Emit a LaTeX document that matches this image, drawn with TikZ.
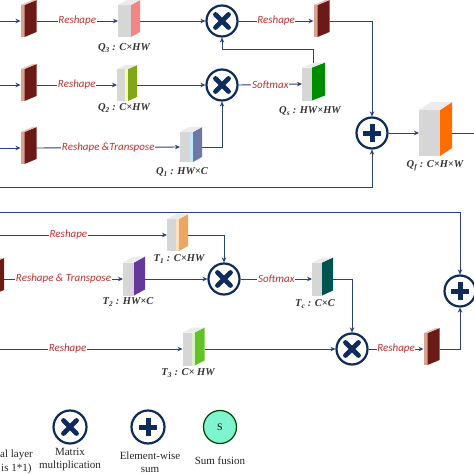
\documentclass[tikz,border=0pt]{standalone}
\usepackage{fontspec}
\setmainfont{Liberation Serif}
\newfontfamily\labfont{Carlito}
\usetikzlibrary{calc,arrows.meta}
\definecolor{navy}{HTML}{0F2B5B}
\definecolor{wire}{HTML}{2B3F78}
\definecolor{redlab}{HTML}{BF3030}
\definecolor{mfront}{HTML}{D9A292}
\definecolor{mside}{HTML}{6B1A17}
\definecolor{mtop}{HTML}{E8C3B8}
\definecolor{gfront}{HTML}{D6D6D6}
\definecolor{gtop}{HTML}{EBEBEB}
\definecolor{sfill}{HTML}{7FF5CF}
\pgfdeclarelayer{bg}
\pgfsetlayers{bg,main}
% name, pos, fw, d, hf, dy, front, side, top
\newcommand{\slab}[9]{%
  \node[inner sep=0pt,outer sep=0pt,minimum width={#3pt+#4pt},minimum height={#5pt}] (#1) at #2 {};
  \fill[#7] (#1.south west) rectangle ++(#3pt,#5pt);
  \fill[#8] ($(#1.south west)+(#3pt,0pt)$) -- ++(#4pt,#6pt) -- ++(0pt,#5pt) -- ++(-#4pt,-#6pt) -- cycle;
  \fill[#9] ($(#1.south west)+(0pt,#5pt)$) -- ++(#3pt,0pt) -- ++(#4pt,#6pt) -- ++(-#3pt,0pt) -- cycle;
}
\newcommand{\mblock}[2]{\slab{#1}{#2}{4}{12}{32}{5}{mfront}{mside}{mtop}}
\tikzset{
  wireline/.style={draw=wire, line width=0.9pt},
  arr/.style={wireline, -{Stealth[length=5pt,width=4.5pt]}},
  lab/.style={fill=white, inner sep=0.6pt, text=redlab, font=\labfont\itshape\fontsize{11}{12}\selectfont},
  qlab/.style={text=black!80, font=\bfseries\itshape\fontsize{10.5}{11}\selectfont},
  leg/.style={align=center, font=\fontsize{11}{13}\selectfont, text=black!85},
  opbase/.style={circle, draw=navy, line width=2.2pt, fill=white, minimum size=31pt, inner sep=0pt},
  otimesc/.style={opbase, path picture={
    \draw[navy, line width=4.8pt, line cap=round]
      ([shift={(-6.5pt,-6.5pt)}]path picture bounding box.center) -- ([shift={(6.5pt,6.5pt)}]path picture bounding box.center)
      ([shift={(-6.5pt,6.5pt)}]path picture bounding box.center) -- ([shift={(6.5pt,-6.5pt)}]path picture bounding box.center);}},
  oplusc/.style={opbase, path picture={
    \draw[navy, line width=5pt]
      ([shift={(-9pt,0pt)}]path picture bounding box.center) -- ([shift={(9pt,0pt)}]path picture bounding box.center)
      ([shift={(0pt,-9pt)}]path picture bounding box.center) -- ([shift={(0pt,9pt)}]path picture bounding box.center);}},
}
\begin{document}
\begin{tikzpicture}[x=1pt,y=-1pt]
\useasboundingbox (0,0) rectangle (474,474);

% ---------- top branch ----------
\coordinate (in1) at (0,21);
\coordinate (in2) at (0,85);
\coordinate (in3) at (0,148);
\coordinate (in4) at (0,187);
\coordinate (j1) at (313,49);
\coordinate (outR) at (474,133);

\mblock{m1}{(28.5,21)}
\mblock{m2}{(28.5,85)}
\mblock{m3}{(28.5,148)}
\slab{q3}{(129,21)}{13}{9}{32}{5}{gfront}{red!45!white!95!black}{gtop}
\slab{q2}{(127,85)}{11}{9}{32}{4}{gfront}{green!30!black!55!yellow!90!white}{gtop}
\fill[green!15!yellow!35!white] ($(q2.south west)+(8pt,0pt)$) rectangle ++(3pt,32pt);
\slab{q1}{(191,147)}{13}{9}{30}{5}{gfront}{cyan!35!blue!45!gray}{gtop}
\fill[cyan!25!white] ($(q1.south west)+(10pt,0pt)$) rectangle ++(3pt,30pt);
\slab{qs}{(313.5,84)}{10}{13}{33}{5}{gfront}{green!55!black}{gtop}
\mblock{m5}{(321.5,21)}
\slab{qf}{(435.5,133)}{21}{12}{46}{8}{gfront}{orange!85!red}{gtop}

\node[otimesc] (ot1) at (222,21) {};
\node[otimesc] (ot2) at (222,85) {};
\node[oplusc] (op1) at (372,133) {};

\node[qlab] (lq3) at (124,48) {Q\textsubscript{3} : C×HW};
\node[qlab] (lq2) at (124,108) {Q\textsubscript{2} : C×HW};
\node[qlab] (lq1) at (182,172) {Q\textsubscript{1} : HW×C};
\node[qlab] (lqs) at (310,111) {Q\textsubscript{s} : HW×HW};
\node[qlab] (lqf) at (435,166) {Q\textsubscript{f} : C×H×W};

% ---------- bottom branch ----------
\coordinate (inb0) at (0,212);
\coordinate (inb1) at (0,235);
\coordinate (inb3) at (0,349);

\mblock{mt2}{(-4,279)}
\slab{t1}{(177.5,235)}{12}{9}{32}{5}{gfront}{orange!55!brown!70!white}{gtop}
\fill[orange!25!white] ($(t1.south west)+(9pt,0pt)$) rectangle ++(3pt,32pt);
\slab{t2}{(134,279)}{11}{11}{33}{6}{gfront}{violet!60!blue!55!gray}{gtop}
\fill[violet!20!white] ($(t2.south west)+(9pt,0pt)$) rectangle ++(2pt,33pt);
\slab{tc}{(322.5,279)}{10}{11}{33}{5}{gfront}{teal!65!black}{gtop}
\slab{t3}{(193.5,349)}{12}{10}{33}{5}{gfront}{green!45!olive!85!white}{gtop}
\fill[yellow!30!green!20!white] ($(t3.south west)+(9pt,0pt)$) rectangle ++(3pt,33pt);
\mblock{m4}{(431.5,349)}

\node[otimesc] (ot3) at (224,279) {};
\node[otimesc] (ot4) at (352,349) {};
\node[oplusc] (op2) at (460,291) {};

\node[qlab] (lt1) at (179,259) {T\textsubscript{1} : C×HW};
\node[qlab] (lt2) at (128,302) {T\textsubscript{2} : HW×C};
\node[qlab] (ltc) at (315,304) {T\textsubscript{c} : C×C};
\node[qlab] (lt3) at (188,373) {T\textsubscript{3} : C× HW};

% ---------- connectors ----------
\begin{pgfonlayer}{bg}
\draw[arr] (in1) -- (m1.west);
\draw[arr] (m1.east) -- node[lab] {Reshape} (q3.west);
\draw[arr] (q3.east) -- (ot1.west);
\draw[arr] (ot1.east) -- node[lab] {Reshape} (m5.west);
\draw[arr] (m5.east) -| (op1.north);
\draw[arr] (in2) -- (m2.west);
\draw[arr] (m2.east) -- node[lab] {Reshape} (q2.west);
\draw[arr] (q2.east) -- (ot2.west);
\draw[arr] (ot2.east) -- node[lab] {Softmax} (qs.west);
\draw[arr] (qs.north) -- (qs.north |- j1) -| (ot1.south);
\draw[arr] (in3) -- (m3.west);
\draw[arr] (m3.east) -- node[lab] {Reshape \&Transpose} (q1.west);
\draw[arr] (q1.east) -| (ot2.south);
\draw[arr] (in4) -| (op1.south);
\draw[arr] (op1.east) -- (qf.west);
\draw[wireline] (qf.east) -- (outR);

\draw[arr] (inb0) -| (op2.north);
\draw[arr] (inb1) -- node[lab,pos=0.41] {Reshape} (t1.west);
\draw[arr] (mt2.east) -- node[lab] {Reshape \& Transpose} (t2.west);
\draw[arr] (t1.east) -| (ot3.north);
\draw[arr] (t2.east) -- (ot3.west);
\draw[arr] (ot3.east) -- node[lab] {Softmax} (tc.west);
\draw[arr] (tc.east) -| (ot4.north);
\draw[arr] (inb3) -- node[lab,pos=0.37] {Reshape} (t3.west);
\draw[arr] (t3.east) -- (ot4.west);
\draw[arr] (ot4.east) -- node[lab] {Reshape} (m4.west);
\draw[arr] (m4.east) -| (op2.south);
\end{pgfonlayer}

% ---------- legend ----------
\node[otimesc, minimum size=33pt] (lgx) at (70,427) {};
\node[oplusc, minimum size=33pt] (lgp) at (148,427) {};
\node[circle, draw=black!75!green, line width=1.2pt, fill=sfill, minimum size=33pt, inner sep=0pt, font=\fontsize{10}{12}\selectfont] (lgs) at (220,427) {S};
\node[leg] (lgxt) at (70,460) {Matrix\\multiplication};
\node[leg] (lgpt) at (150,462) {Element-wise\\sum};
\node[leg] (lgst) at (220,461) {Sum fusion};
\node[leg, anchor=west, inner sep=0pt] (lgc1) at (0,455) {al layer};
\node[leg, anchor=west, inner sep=0pt] (lgc2) at (1,469) {is 1*1)};
\end{tikzpicture}
\end{document}
